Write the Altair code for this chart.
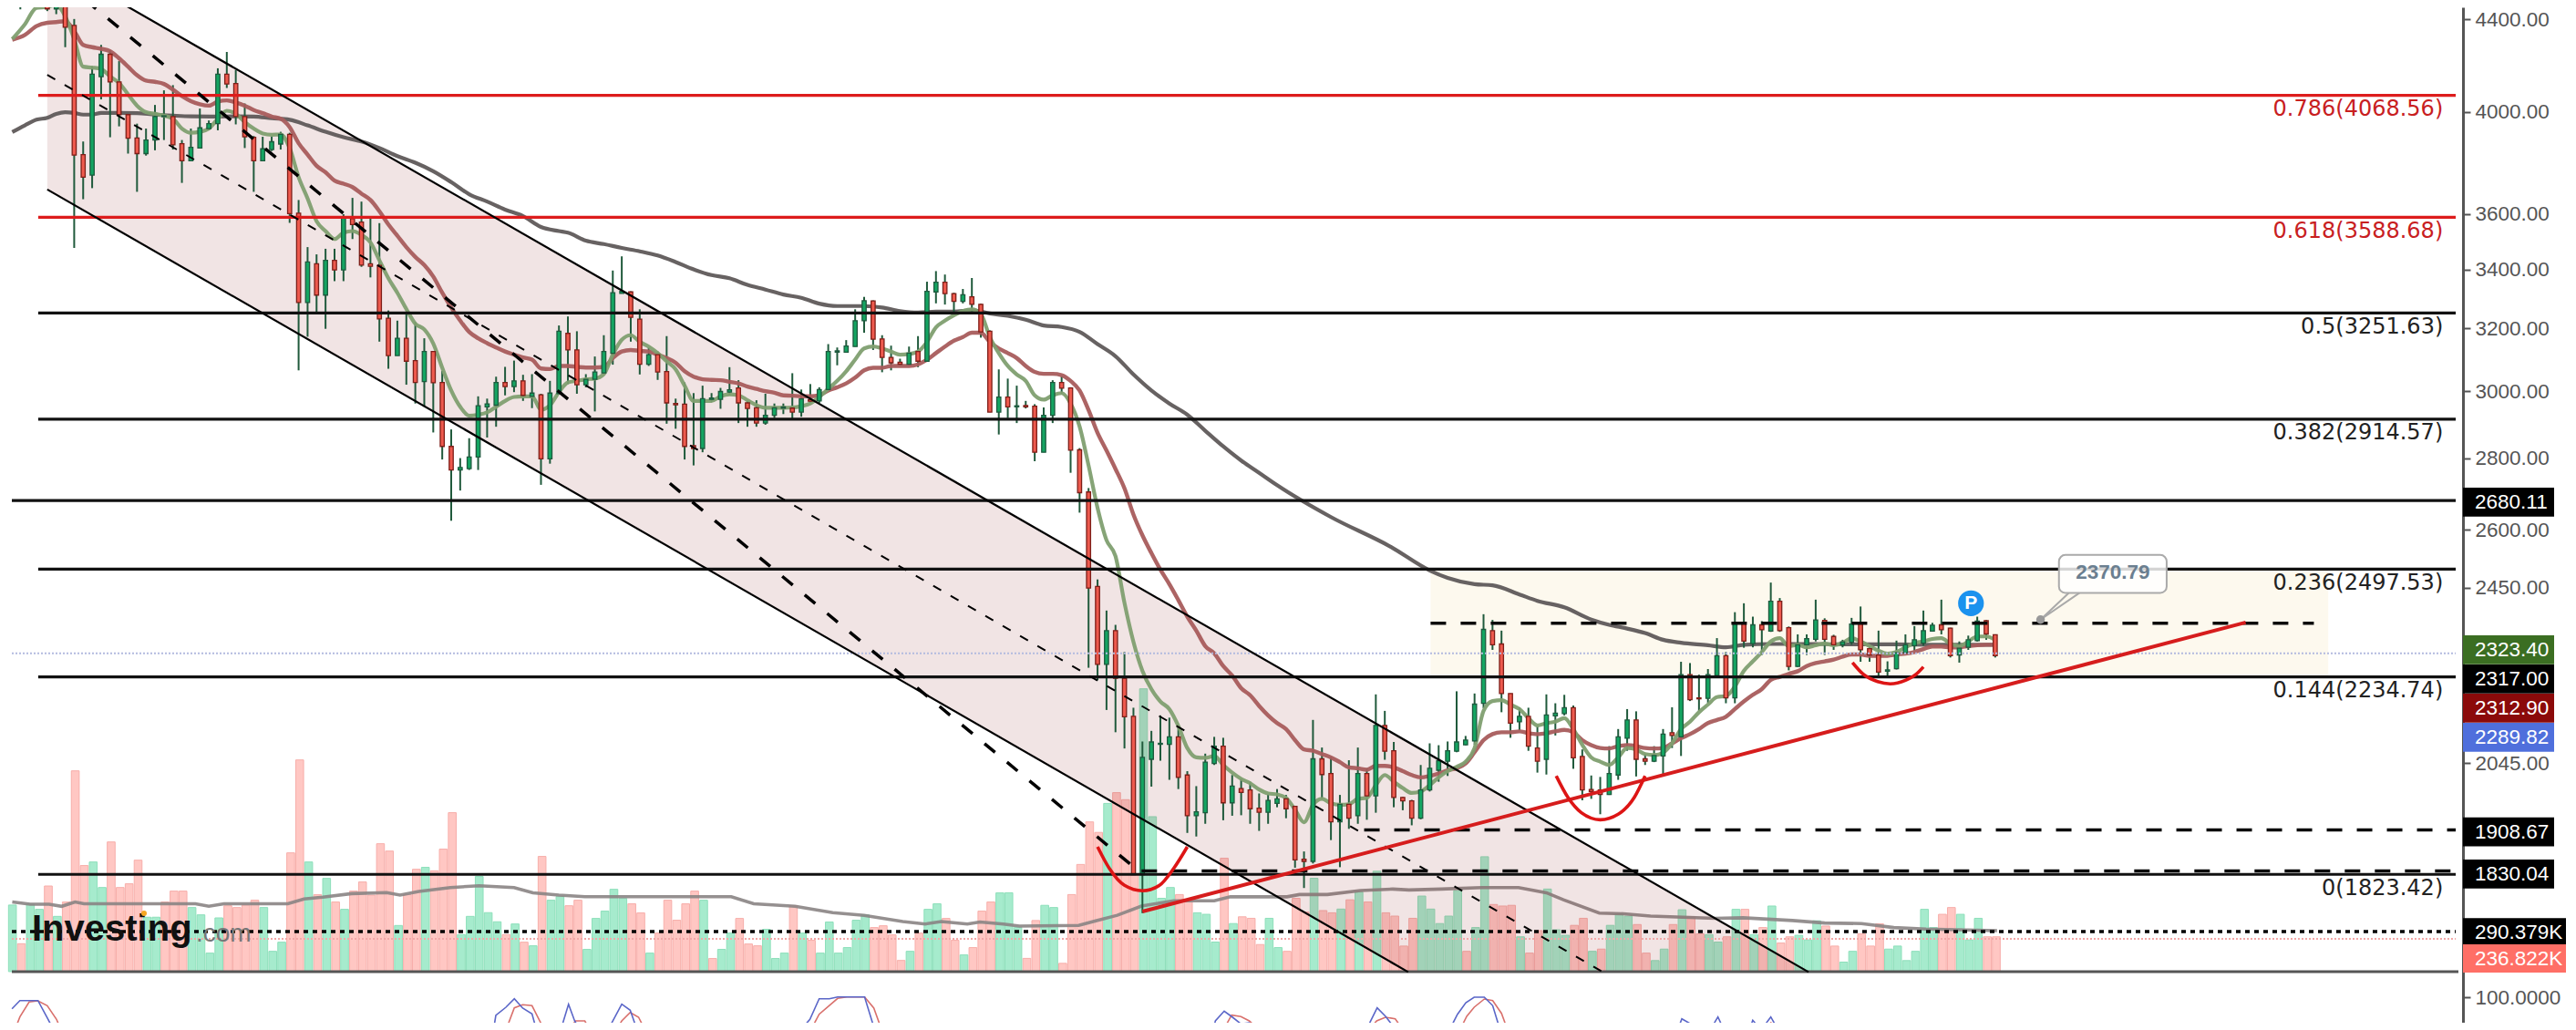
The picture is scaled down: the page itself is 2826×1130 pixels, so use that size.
import altair as alt
import pandas as pd

# ---------- candles (index -3 .. 217) ----------
highs = [4600,4590,4640,4560,4600,4540,4402,3880,4191,4286,
 4262,4215,3992,3952,3932,4029,4090,4112,3886,3932,
 4014,3965,4184,4255,4177,4035,3902,3899,3899,3919,
 3915,3653,3480,3454,3474,3474,3600,3661,3647,3586,
 3567,3260,3226,3248,3221,3168,3127,3063,2884,2800,
 2858,2984,2977,3045,3076,3096,3051,3053,2992,3032,
 3210,3240,3191,3053,3109,3178,3397,3447,3325,3264,
 3138,3125,3175,2977,3027,2994,3017,2994,3010,3075,
 3034,2970,2972,2992,2962,2962,3056,3005,3022,3012,
 3149,3138,3162,3264,3306,3294,3178,3144,3102,3141,
 3175,3358,3395,3383,3320,3333,3371,3283,3194,3068,
 3039,3017,2970,2960,2950,3034,3047,3012,2829,2715,
 2471,2393,2358,2293,2165,2091,2114,2148,2143,2123,
 2028,1997,2065,2101,2099,2020,2012,2006,1982,1980,
 1991,1979,1957,1867,2138,2078,2058,1979,2051,2078,
 2034,2195,2158,2090,1975,1969,2041,2087,2083,2091,
 2202,2103,2197,2384,2370,2344,2197,2166,2165,2126,
 2195,2175,2194,2170,2074,2019,2016,2081,2118,2162,
 2157,2064,2081,2118,2166,2270,2267,2240,2253,2326,
 2293,2389,2411,2378,2367,2463,2424,2354,2335,2335,
 2420,2374,2334,2322,2375,2403,2306,2344,2271,2320,
 2335,2355,2393,2363,2420,2351,2318,2332,2378,2370,2335]
body_tops = [4560,4560,4620,4530,4560,4500,4373,3828,4159,4245,
 4245,4126,3989,3894,3886,3981,3984,3981,3871,3857,
 3935,3952,4159,4159,4119,3981,3897,3851,3879,3909,
 3909,3604,3427,3421,3433,3433,3586,3584,3571,3421,
 3415,3234,3168,3168,3096,3125,3125,3027,2834,2773,
 2803,2955,2961,3027,3027,3032,3032,2994,2989,2994,
 3191,3184,3130,3037,3060,3125,3320,3325,3323,3231,
 3115,3115,3061,2962,2960,2836,2977,2979,2999,3004,
 3010,2964,2949,2926,2949,2952,2948,2976,2974,3005,
 3125,3127,3143,3226,3293,3292,3166,3106,3091,3120,
 3125,3325,3356,3356,3317,3313,3306,3281,3191,2982,
 2982,2955,2956,2954,2926,3027,3027,3010,2824,2704,
 2453,2344,2344,2232,2146,2057,2090,2087,2101,2101,
 2020,1945,2047,2081,2081,1997,1992,1989,1952,1968,
 1971,1971,1956,1852,2054,2054,2023,1960,1960,2023,
 2023,2126,2126,2071,1974,1967,1989,2034,2050,2071,
 2090,2094,2173,2347,2344,2312,2197,2146,2146,2077,
 2149,2153,2165,2165,2059,1990,1989,2023,2101,2138,
 2138,2054,2061,2107,2110,2240,2240,2187,2240,2284,
 2284,2362,2364,2358,2358,2416,2416,2351,2310,2325,
 2370,2369,2330,2317,2360,2364,2301,2286,2251,2291,
 2310,2322,2344,2357,2358,2350,2302,2322,2367,2368,2334]
body_bottoms = [4500,4490,4540,4448,4448,4365,3826,3740,3748,4148,
 4126,3989,3893,3832,3832,3886,3981,3867,3804,3804,
 3854,3932,3952,4117,3981,3899,3804,3804,3848,3870,
 3602,3287,3287,3312,3312,3399,3399,3562,3416,3412,
 3232,3112,3112,3094,3027,3030,3026,2834,2766,2766,
 2770,2803,2952,2957,3014,3014,2987,2984,2798,2798,
 2992,3130,3020,3020,3037,3057,3119,3318,3237,3084,
 3084,3060,2964,2958,2834,2828,2828,2975,2975,2997,
 2964,2947,2903,2903,2926,2948,2936,2936,2969,2970,
 3005,3123,3123,3141,3226,3165,3106,3089,3084,3084,
 3094,3094,3323,3317,3291,3291,3281,3189,2936,2936,
 2952,2952,2952,2817,2817,2926,3009,2823,2702,2449,
 2264,2264,2232,2145,1823,1823,2053,2085,2085,2015,
 1937,1937,1943,2044,1963,1963,1984,1951,1944,1944,
 1962,1951,1851,1848,1848,2021,1925,1925,1932,1937,
 1977,1977,2070,1974,1967,1932,1932,1989,2030,2049,
 2070,2084,2092,2175,2310,2197,2131,2134,2081,2049,
 2053,2147,2152,2056,1989,1986,1980,1980,2020,2098,
 2053,2049,2049,2060,2104,2101,2183,2185,2186,2238,
 2187,2187,2319,2313,2346,2343,2344,2259,2259,2310,
 2323,2323,2310,2310,2316,2298,2286,2246,2248,2254,
 2291,2308,2314,2343,2346,2284,2286,2304,2320,2336,2284]
lows = [4446,4477,4500,4438,4424,4276,3477,3656,3698,4052,
 3897,3941,3832,3684,3824,3845,3886,3848,3718,3802,
 3854,3925,3925,4100,3949,3854,3684,3802,3842,3848,
 3568,3065,3173,3254,3199,3360,3360,3509,3410,3373,
 3157,3070,3112,3020,2962,2952,2875,2796,2625,2708,
 2766,2766,2860,2892,2987,2997,2970,2948,2724,2784,
 2992,3022,2992,3012,2938,3053,3083,3318,3157,3052,
 3079,3035,2901,2886,2796,2779,2817,2967,2946,2987,
 2903,2892,2892,2898,2918,2930,2915,2922,2964,2964,
 3002,3081,3123,3141,3186,3130,3059,3065,3081,3081,
 3075,3094,3284,3280,3255,3284,3255,3170,2936,2869,
 2918,2903,2947,2791,2817,2903,2992,2758,2647,2256,
 2227,2160,2111,2076,1823,1752,1996,2050,2010,1991,
 1903,1896,1921,2041,1928,1937,1938,1921,1907,1921,
 1954,1932,1836,1798,1844,1971,1889,1837,1911,1921,
 1929,1943,2052,1954,1948,1918,1930,1986,2006,2018,
 2068,2083,2084,2164,2298,2155,2099,2115,2071,2025,
 2021,2104,2148,2033,1968,1971,1940,1979,2010,2071,
 2017,2041,2047,2020,2077,2060,2180,2158,2175,2237,
 2175,2175,2303,2304,2286,2341,2341,2250,2258,2286,
 2318,2286,2298,2304,2310,2270,2270,2232,2232,2252,
 2286,2296,2308,2343,2335,2280,2268,2298,2318,2322,2280]
candle_dirs = ("gggrgrrrgg" "rrrrgggrrg" "gggrrrrggg" "rrgrgrgrrr" "rrgrrgrrrg"
               "ggggrgrgrg" "grrgggggrr" "grrrrrgggg" "rrrgggrgrg" "gggggrrrrg"
               "rggrrgrrrg" "rgrrggrrrr" "rgrrrggggr" "rgggrgrrrg" "grrrgrrgrg"
               "rgrrrrgggg" "ggggrrrgrr" "gggrrrrggg" "rrggrgrrgg" "rgrgrgrrgg"
               "grrggrrrgg" "ggggrrgggrr")

# ---------- moving averages on the candles ----------
ma_lead_x = [-3.9, -2.5, -1.2]
fast_ma = [4312,4378,4453,
 4457,4467,4414,4312,4191,4187,4181,4149,4121,4073,
 4026,3999,3992,3985,3972,3932,3915,3919,3932,3972,
 4005,3992,3959,3932,3912,3907,3908,3854,3740,3659,
 3574,3538,3509,3532,3538,3524,3497,3433,3370,3320,
 3265,3216,3197,3151,3073,3002,2952,2925,2928,2935,
 2952,2970,2982,2984,2984,2943,2957,2997,3027,3032,
 3037,3039,3053,3115,3163,3178,3156,3141,3120,3094,
 3068,3017,2970,2970,2970,2984,2990,2987,2972,2957,
 2949,2949,2949,2950,2954,2962,2982,3007,3032,3062,
 3099,3135,3141,3135,3125,3115,3117,3125,3156,3204,
 3226,3244,3258,3264,3248,3172,3120,3079,3052,3032,
 2987,2974,2987,2994,2962,2893,2779,2660,2573,2531,
 2412,2317,2249,2207,2179,2162,2125,2077,2057,2056,
 2060,2041,2025,2012,2003,1990,1982,1980,1973,1949,
 1924,1959,1971,1962,1959,1960,1971,1973,1999,2020,
 2006,1993,1983,1986,1999,2015,2028,2037,2048,2077,
 2158,2180,2182,2172,2162,2142,2126,2131,2134,2142,
 2118,2084,2057,2048,2041,2057,2077,2074,2064,2062,
 2067,2087,2118,2134,2155,2172,2189,2191,2213,2249,
 2271,2293,2318,2326,2307,2310,2304,2309,2313,2309,
 2314,2326,2318,2307,2296,2289,2293,2304,2314,2318,
 2324,2326,2313,2307,2318,2330,2330,2322]
slow_ma = [4309,4330,4370,
 4385,4388,4392,4348,4286,4276,4269,4258,4227,4191,
 4154,4131,4126,4117,4093,4066,4045,4032,4026,4043,
 4048,4039,4026,4008,3995,3981,3972,3938,3873,3828,
 3784,3759,3727,3715,3702,3677,3653,3611,3562,3521,
 3480,3445,3416,3376,3320,3270,3226,3189,3168,3152,
 3138,3125,3115,3106,3099,3071,3069,3079,3079,3076,
 3074,3074,3076,3104,3125,3130,3127,3125,3115,3104,
 3089,3062,3045,3037,3035,3034,3029,3024,3014,3007,
 3000,2995,2987,2986,2984,2984,2987,3002,3012,3024,
 3042,3065,3073,3073,3079,3079,3079,3084,3099,3120,
 3141,3160,3172,3186,3186,3156,3135,3120,3104,3079,
 3060,3054,3054,3050,3032,3002,2942,2874,2822,2769,
 2714,2642,2586,2539,2496,2459,2419,2378,2344,2307,
 2290,2260,2238,2209,2193,2169,2148,2131,2118,2094,
 2074,2071,2064,2057,2047,2036,2034,2031,2039,2039,
 2036,2028,2020,2015,2018,2023,2030,2034,2044,2068,
 2094,2107,2111,2111,2113,2109,2107,2109,2113,2116,
 2111,2094,2083,2077,2076,2081,2083,2081,2077,2076,
 2077,2087,2098,2107,2118,2131,2138,2145,2162,2179,
 2194,2207,2228,2235,2242,2248,2260,2267,2271,2275,
 2282,2287,2287,2284,2284,2284,2287,2289,2293,2300,
 2306,2306,2304,2304,2307,2309,2310,2310]
long_ma_x = [-3.9,-2.5,-1.2,0,1,2,3,4,5,6,8,10,12,14,16,19,21,23,25,27,29,31,33,35,37,39,41,43,45,47,49,51,53,55,57,58,60,62,64,
 66,68,70,72,74,76,78,80,82,84,86,88,91,93,95,97,99,101,103,105,107,109,111,113,115,117,119,121,123,125,127,129,131,133,135,137,
 143,149.7,154,156,159,161,164,166,169,172,174,176,178,180,182,185,187,189,192,197,201,206,210,217]
long_ma = [3918,3945,3968,3976,3992,3999,3996,3989,3989,3996,3996,3995,3989,3985,3982,3981,3982,3981,3974,3968,3945,3919,3897,3880,3854,3822,3796,3763,3721,3675,3647,3617,3593,3553,3538,3532,3503,3491,3477,
 3465,3450,3427,3401,3381,3370,3347,3331,3314,3303,3283,3275,3275,3270,3258,3253,3256,3256,3261,3250,3242,3229,3210,3205,3189,3149,3110,3052,3002,2962,2928,2880,2834,2793,2758,2723,
 2635,2555,2494,2475,2459,2456,2433,2417,2401,2371,2358,2349,2338,2322,2315,2309,2304,2310,2312,2312,2311,2311,2310,2310]

# ---------- volume, thousands (index -4 .. 217) ----------
volumes = [482,202,488,451,620,400,504,1454,768,794,609,939,609,636,807,394,394,504,583,583,
 464,411,134,389,477,464,482,517,464,147,213,860,1533,794,557,675,504,451,583,649,
 554,926,873,334,557,741,755,730,887,1151,268,400,689,427,361,268,345,213,187,834,
 517,543,477,517,161,385,438,596,530,491,425,134,279,517,372,491,583,517,95,161,
 279,385,200,187,306,95,134,477,279,227,134,359,134,174,372,411,319,332,266,81,
 147,279,451,491,385,227,121,174,438,504,570,571,319,96,370,480,464,60,558,776,
 1084,1008,1218,1296,1245,709,2048,1122,531,609,558,509,426,415,214,821,348,397,386,196,
 386,174,147,531,431,676,442,426,453,520,576,504,727,426,402,185,386,547,453,348,
 402,587,147,319,832,486,475,480,252,134,297,598,303,263,335,386,147,163,335,415,
 402,341,134,80,163,341,448,397,274,268,214,252,451,451,268,319,475,207,252,263,
 230,368,330,185,69,147,274,185,346,163,185,80,147,451,319,415,464,415,230,386,252,252]
volume_dirs = ("grggrgrrrg" "grrrrggrrr" "ggggrrrrgg" "grrgrgrgrr" "rrrgrrgrrr"
               "gggggrgrgr" "ggrrgggggr" "rgrrrrrgrg" "grrrgggrgr" "ggggggrrrr"
               "grggrrgrrr" "gggrrggrrr" "rrgrrrgggg" "rrgggrgrrr" "ggrrrgrrgr"
               "grgrrrrggg" "ggrggrrrgr" "rgggrrgrgg" "grrggrgrrg" "grgrgrgrrg"
               "ggrrggrrrg" "gggggrrgggrr")
vol_ma_x = [-3.9,-1.9,.2,1.6,3.1,4.1,16.5,18,19.7,26.8,28.6,30.7,33.9,37.8,39.3,41.4,44.9,48.1,52,54.1,57,59.9,76.2,78.7,83.3,87.5,91,95.3,97.8,99.6,102.5,103.9,106.5,
 108.3,114.9,116.9,119.2,121.9,125.5,130,131.8,138.1,139.5,142.6,146.3,149.9,151.7,155.3,159.8,163.9,167,168.9,172.9,175.6,178.6,185.8,188.9,194.4,198,202.1,205.7,209.3,217.2]
vol_ma = [504,488,488,473,504,491,491,473,491,491,526,539,565,572,554,581,609,622,609,570,554,543,543,491,473,427,407,363,345,363,345,359,345,
 330,335,370,408,475,513,513,542,542,558,558,587,598,591,598,609,609,571,520,424,419,402,386,390,370,352,348,319,308,297]

# ---------- lower oscillator ----------
osc_blue_seg = [1]*5+[2]*3+[3]*7+[4]*4+[5]*4+[6]*7+[7]*7+[8]*4+[9]*7+[10]*6+[11]*5
osc_blue_x = [-3.93,-3.05,-1.04,0,.72, 19.67,20.03,20.4, 49.71,49.97,51.1,52.03,52.96,54,54.5, 57.2,58.07,58.75,59.37, 62.46,64,64.94,65.71,
 83.92,84.96,85.99,87.12,88.05,91.05,92.18, 129.87,130.13,131.11,132.04,132.97,133.9,134.52, 147.01,148.15,149.08,150.26,
 156.2,157.1,158.03,158.96,160.09,161.02,161.85, 181.62,182.09,183.95,185.24,186.11,186.79, 189.62,189.99,190.92,192,192.83]
osc_blue = [87.3,96.3,96.3,77.3,64, 64,66.3,64, 64,80,89,98.3,88,81.7,64, 64,92.3,74,64, 64,92.3,85.7,64,
 64,75.7,98.3,98.3,100.3,100.3,64, 64,74,84.7,78,70.7,72,64, 65.7,88.3,79,64,
 64,81.3,94,100,100,90.7,64, 64,76.3,65.7,64,78.3,64, 64,74.7,64,78.3,64]
osc_red_seg = [1]*7+[2]*6+[3]*4+[4]*5+[5]*7+[6]*5+[7]*5+[8]*7+[9]*7+[10]*4
osc_red_x = [-3.62,-3.05,-2.02,-1.04,0,1.03,1.54, 51.1,52.03,52.96,54,55.03,55.54, 58.07,58.85,59.88,60.45, 63.39,64,64.94,65.87,66.6,
 85.06,85.99,88.05,89.09,91.05,92.08,92.96, 131.01,131.94,132.97,133.9,135.03, 147.17,148.1,149.08,150.16,151.04,
 157.36,158.13,158.96,160.09,161.02,162,162.68, 183.17,184.05,185.24,186.11,187.15,187.97,188.59, 191.17,192,192.98,193.14]
osc_red = [64,78.3,94.7,96,90.7,75.7,64, 64,88.3,91.7,90.7,70.7,64, 64,74,74,64, 64,74,83.3,78,64,
 64,81.3,98.7,100.3,100.3,88,64, 64,80.3,78.7,74,64, 64,74,78,76.3,64,
 64,79,89,98,96.3,82.3,64, 64,70,64,67.3,66.3,68,64, 64,72,66.7,64]

# ---------- levels ----------
level_prices = [4068.56,3588.68,3251.63,2914.57,2680.11,2497.53,2234.74,1823.42]
level_starts = [-1.01,-1.01,-1.01,-1.01,-3.945,-1.01,-1.01,-1.01]
level_colors = ["#dd1c1c","#dd1c1c","#111111","#111111","#111111","#111111","#111111","#111111"]
level_end = 268.3
fib_texts = ["0.786(4068.56)","0.618(3588.68)","0.5(3251.63)","0.382(2914.57)","0.236(2497.53)","0.144(2234.74)","0(1823.42)"]
fib_prices = [4068.56,3588.68,3251.63,2914.57,2497.53,2234.74,1823.42]
fib_colors = ["#c8201f","#c8201f","#222222","#222222","#222222","#222222","#222222"]
dash_prices = [2362,1908.67,1830.04]
dash_starts = [154.1,146.7,121.9]
dash_ends = [252.5,268.3,268.3]
pivot_price = 2289.82

channel_x = [0,151.6,196.2]
channel_top = [4676,2091,1649]
channel_bottom = [3693,1649,1649]
upper_x = [7.67,196.2]; upper_p = [4489,1649]
lower_x = [0,151.6]; lower_p = [3693,1649]
mid_x = [0,173.3]; mid_p = [4156,1649]
fork_x = [4.25,121.2]; fork_p = [4489,1835]
trend_x = [122,244.9]; trend_p = [1755,2364]
box_x = [154.1,254.1]; box_p = [2234.74,2497.53]

cup_seg = [1]*7+[2]*7+[3]*7
cup_x = [117,118.3,120,122,123.9,125.5,127, 168.1,169.4,170.9,173,175,176.8,178, 201.1,202.3,203.9,205.3,207,208.2,209]
cup_p = [1876,1835,1803,1793,1803,1835,1876, 2018,1974,1943,1929,1940,1974,2018, 2268,2241,2224,2219,2227,2241,2258]

# ---------- price tags on the axis ----------
tag_texts = ["2680.11","2323.40","2317.00","2312.90","2289.82","1908.67","1830.04"]
tag_anchor = [2676,2298,2230,2164,2100,1905,1824]
tag_colors = ["#000000","#3b6e22","#000000","#8b0a0a","#4f6fdc","#000000","#000000"]
ktag_texts = ["290.379K","236.822K"]
ktag_anchor = [1718,1672]
ktag_colors = ["#000000","#ff6f66"]
axis_values = [4400,4000,3600,3400,3200,3000,2800,2600,2450,2045]

W, H = 2694, 1114
x_scale = alt.Scale(domain=[-3.945,268.6], nice=False, zero=False)
p_scale = alt.Scale(type="log", domain=[1565,4455.4], nice=False)
v_scale = alt.Scale(domain=[-370,6983], nice=False, zero=False)
o_scale = alt.Scale(domain=[72,1186], nice=False, zero=False)
X = alt.X("i:Q", scale=x_scale, axis=None)
X2 = alt.X2("i2:Q")
P = alt.Y("p:Q", scale=p_scale, axis=None)
P2 = alt.Y2("p2:Q")
V = alt.Y("v:Q", scale=v_scale, axis=None)

def df(**k):
    lens = {n: len(v) for n, v in k.items()}
    if len(set(lens.values())) != 1:
        raise ValueError(f"length mismatch {lens}")
    return pd.DataFrame(k)

xs = list(range(-3, 218))
candles = df(i=xs, h=highs, t=body_tops, b=body_bottoms, l=lows, d=list(candle_dirs))
ups = candles[candles.d == "g"]
dns = candles[candles.d == "r"]
vol = df(i=list(range(-4, 218)), v=volumes, d=list(volume_dirs))
vol["i"] = vol["i"] + 0.12
ma_x = ma_lead_x + list(range(0, 218))

AXF = "Liberation Sans"
LFS = 22.5
layers = []

# yellow range box
layers.append(alt.Chart(df(i=[box_x[0]], i2=[box_x[1]], p=[box_p[0]], p2=[box_p[1]])).mark_rect(color="#fdf9ee", clip=True)
              .encode(X, X2, P, P2))
# volume
for d, f, s in [("r", "#ffc7c3", "#f7aeaa"), ("g", "#a6ebcd", "#8ddfba")]:
    layers.append(alt.Chart(vol[vol.d == d]).mark_bar(width=8.6, fill=f, stroke=s, strokeWidth=1, clip=True)
                  .encode(X, V, alt.Y2(datum=0)))
layers.append(alt.Chart(df(i=vol_ma_x, v=vol_ma)).mark_line(color="#8a8484", strokeWidth=3.6, opacity=.9, clip=True).encode(X, V))
# channel fill
layers.append(alt.Chart(df(i=channel_x, p=channel_top, p2=channel_bottom)).mark_area(color="#8f1f1f", opacity=.12, clip=True).encode(X, P, P2))
# moving averages
layers.append(alt.Chart(df(i=long_ma_x, p=long_ma)).mark_line(color="#5f5a5a", strokeWidth=4.2, opacity=.95, clip=True, interpolate="monotone").encode(X, P))
# wicks: carries the main price axis
price_axis = alt.Axis(values=axis_values, format=".2f", orient="right", grid=False, tickSize=8, tickWidth=2,
                      tickColor="#555555", domainColor="#555555", domainWidth=3, labelColor="#555555",
                      labelFont=AXF, labelFontSize=LFS, labelPadding=5, title=None)
layers.append(alt.Chart(candles).mark_rule(color="#205a3c", strokeWidth=2, clip=True)
              .encode(X, alt.Y("h:Q", scale=p_scale, axis=price_axis), alt.Y2("l:Q")))
layers.append(alt.Chart(df(i=ma_x, p=slow_ma)).mark_line(color="#a85c5c", strokeWidth=4.4, opacity=.95, clip=True, interpolate="monotone").encode(X, P))
layers.append(alt.Chart(df(i=ma_x, p=fast_ma)).mark_line(color="#7f9f70", strokeWidth=4.2, opacity=.95, clip=True, interpolate="monotone").encode(X, P))
# candle bodies
for sub, f, s in [(ups, "#14a562", "#1d5a3e"), (dns, "#ee5a4e", "#7d1e18")]:
    layers.append(alt.Chart(sub).mark_bar(width=4.4, fill=f, stroke=s, strokeWidth=1.3, clip=True)
                  .encode(X, alt.Y("t:Q", scale=p_scale, axis=None), alt.Y2("b:Q")))
# levels
lv = df(p=level_prices, i=level_starts, i2=[level_end]*len(level_prices), c=level_colors)
layers.append(alt.Chart(lv).mark_rule(strokeWidth=3.2).encode(X, X2, P, alt.Color("c:N", scale=None)))
# dashed levels
layers.append(alt.Chart(df(p=dash_prices, i=dash_starts, i2=dash_ends)).mark_rule(strokeWidth=3.5, color="#0a0a0a", strokeDash=[17,16]).encode(X, X2, P))
layers.append(alt.Chart(df(p=[pivot_price], i=[-3.945], i2=[level_end])).mark_rule(strokeWidth=2, color="#b3badf", strokeDash=[2,2]).encode(X, X2, P))
# volume levels
layers.append(alt.Chart(df(v=[236.822], i=[-3.945], i2=[level_end])).mark_rule(strokeWidth=2, color="#f2a8a8", strokeDash=[2,2]).encode(X, X2, V))
layers.append(alt.Chart(df(v=[290.379], i=[-3.945], i2=[level_end])).mark_rule(strokeWidth=3.5, color="#000000", strokeDash=[5,5]).encode(X, X2, V))
layers.append(alt.Chart(df(v=[0], i=[-3.945], i2=[268.6])).mark_rule(strokeWidth=3, color="#555555").encode(X, X2, V))
# channel lines
layers.append(alt.Chart(df(i=upper_x, p=upper_p)).mark_line(color="#000000", strokeWidth=2.2, clip=True).encode(X, P))
layers.append(alt.Chart(df(i=lower_x, p=lower_p)).mark_line(color="#000000", strokeWidth=2.2, clip=True).encode(X, P))
layers.append(alt.Chart(df(i=mid_x, p=mid_p)).mark_line(color="#000000", strokeWidth=2, strokeDash=[10,12], clip=True).encode(X, P))
layers.append(alt.Chart(df(i=fork_x, p=fork_p)).mark_line(color="#000000", strokeWidth=3.5, strokeDash=[15,17], clip=True).encode(X, P))
# red trend line and cups
layers.append(alt.Chart(df(i=trend_x, p=trend_p)).mark_line(color="#d61d1d", strokeWidth=4).encode(X, P))
layers.append(alt.Chart(df(i=cup_x, p=cup_p, s=cup_seg)).mark_line(color="#dd1515", strokeWidth=3.6, interpolate="monotone").encode(X, P, detail="s:N"))
# oscillator
osc_axis = alt.Axis(values=[100], format=".4f", orient="right", grid=False, tickSize=8, tickWidth=2, tickColor="#555555",
                    domain=False, labelColor="#555555", labelFont=AXF, labelFontSize=LFS, labelPadding=5, title=None)
O_axis = alt.Y("o:Q", scale=o_scale, axis=osc_axis)
O = alt.Y("o:Q", scale=o_scale, axis=None)
layers.append(alt.Chart(df(i=osc_red_x, o=osc_red, s=osc_red_seg)).mark_line(color="#d9706c", strokeWidth=1.6, clip=True).encode(X, O_axis, detail="s:N"))
layers.append(alt.Chart(df(i=osc_blue_x, o=osc_blue, s=osc_blue_seg)).mark_line(color="#5a66c8", strokeWidth=1.6, clip=True).encode(X, O, detail="s:N"))
# fib texts
fib = df(t=fib_texts, p=fib_prices, c=fib_colors, i=[266.9]*len(fib_texts))
layers.append(alt.Chart(fib).mark_text(align="right", baseline="middle", dy=15.5, font="DejaVu Sans", fontSize=24)
              .encode(X, P, text="t:N", color=alt.Color("c:N", scale=None)))
# callout
layers.append(alt.Chart(df(i=[225.2,222.05,226.4], p=[2437,2370.79,2437], o=[0,1,2])).mark_line(color="#a9a9a9", strokeWidth=2).encode(X, P, order="o:Q"))
layers.append(alt.Chart(df(i=[224.1], i2=[236.1], p=[2534], p2=[2437])).mark_rect(fill="#ffffff", fillOpacity=.82, stroke="#aaaaaa", strokeWidth=2, cornerRadius=7).encode(X, X2, P, P2))
layers.append(alt.Chart(df(i=[222.05], p=[2370.79])).mark_point(filled=True, size=90, color="#999999", opacity=1).encode(X, P))
layers.append(alt.Chart(df(i=[230.1], p=[2488], t=["2370.79"])).mark_text(font=AXF, fontWeight="bold", fontSize=LFS, color="#6b7f90", baseline="middle").encode(X, P, text="t:N"))
# P marker
layers.append(alt.Chart(df(i=[214.3], p=[2411])).mark_point(filled=True, size=800, color="#1b92ee", opacity=1).encode(X, P))
layers.append(alt.Chart(df(i=[214.3], p=[2411], t=["P"])).mark_text(font=AXF, fontWeight="bold", fontSize=21, color="#ffffff", baseline="middle").encode(X, P, text="t:N"))
# axis tags
layers.append(alt.Chart(df(p=tag_anchor, c=tag_colors)).mark_rect(width=100, height=31.8)
              .encode(x=alt.value(2744), y=P, color=alt.Color("c:N", scale=None)))
layers.append(alt.Chart(df(p=ktag_anchor, c=ktag_colors)).mark_rect(width=113, height=31)
              .encode(x=alt.value(2750.5), y=P, color=alt.Color("c:N", scale=None)))
layers.append(alt.Chart(df(p=tag_anchor + ktag_anchor, t=tag_texts + ktag_texts)).mark_text(align="left", baseline="middle", font=AXF, fontSize=LFS, color="#ffffff")
              .encode(x=alt.value(2707), y=P, text="t:N"))
# logo
layers.append(alt.Chart(df(t=["Investing"])).mark_text(align="left", baseline="middle", font=AXF, fontWeight="bold", fontSize=40, color="#111111")
              .encode(x=alt.value(27), y=alt.value(1012), text="t:N"))
layers.append(alt.Chart(df(t=[".com"])).mark_text(align="left", baseline="middle", font=AXF, fontSize=28, color="#777777")
              .encode(x=alt.value(207), y=alt.value(1017), text="t:N"))
layers.append(alt.Chart(df(a=[1])).mark_point(filled=True, size=36, color="#f5a623", opacity=1)
              .encode(x=alt.value(150), y=alt.value(994)))

chart = (alt.layer(*layers)
         .resolve_scale(y="independent")
         .properties(width=W, height=H, background="#ffffff",
                     padding={"left": 0, "top": 0, "right": 116, "bottom": 0},
                     autosize=alt.AutoSizeParams(type="none"))
         .configure_view(stroke=None))
chart.save("out.html", embed_options={"renderer": "svg", "actions": False})
